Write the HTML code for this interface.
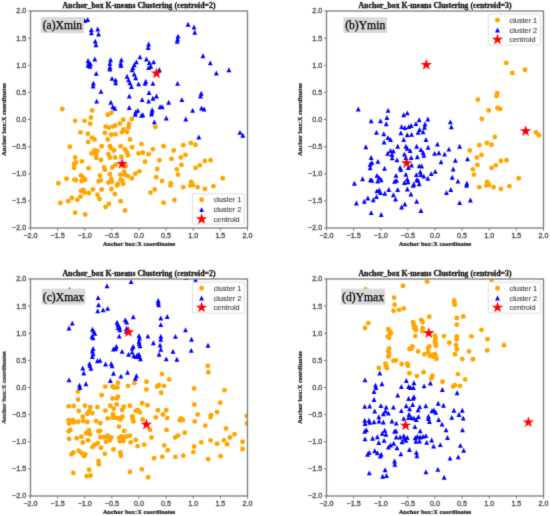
<!DOCTYPE html>
<html><head><meta charset="utf-8"><style>
html,body{margin:0;padding:0;background:#fff;width:550px;height:516px;overflow:hidden}
svg{display:block;will-change:transform}
</style></head><body>
<svg width="550" height="516" viewBox="0 0 550 516">
<defs><filter id="bl" x="0" y="0" width="550" height="516" filterUnits="userSpaceOnUse" color-interpolation-filters="sRGB"><feConvolveMatrix order="3" kernelMatrix="1 6 1 6 36 6 1 6 1" divisor="64" edgeMode="duplicate" preserveAlpha="true"/></filter></defs>
<g filter="url(#bl)">
<rect width="550" height="516" fill="#fff"/>
<clipPath id="c0"><rect x="30.5" y="11" width="217" height="217"/></clipPath><g clip-path="url(#c0)"><g fill="#ffa500"><circle cx="62.27" cy="108.97" r="2.45"/><circle cx="92.10" cy="110.40" r="2.45"/><circle cx="90.95" cy="117.57" r="2.45"/><circle cx="75.17" cy="120.87" r="2.45"/><circle cx="84.50" cy="120.87" r="2.45"/><circle cx="90.23" cy="123.74" r="2.45"/><circle cx="80.48" cy="132.34" r="2.45"/><circle cx="87.79" cy="133.78" r="2.45"/><circle cx="91.95" cy="137.65" r="2.45"/><circle cx="94.53" cy="139.51" r="2.45"/><circle cx="88.08" cy="141.95" r="2.45"/><circle cx="69.87" cy="146.68" r="2.45"/><circle cx="101.71" cy="146.25" r="2.45"/><circle cx="94.53" cy="150.55" r="2.45"/><circle cx="97.40" cy="150.98" r="2.45"/><circle cx="91.67" cy="153.42" r="2.45"/><circle cx="95.97" cy="154.43" r="2.45"/><circle cx="107.74" cy="114.70" r="2.45"/><circle cx="111.32" cy="112.84" r="2.45"/><circle cx="123.22" cy="119.72" r="2.45"/><circle cx="131.83" cy="119.00" r="2.45"/><circle cx="119.93" cy="123.59" r="2.45"/><circle cx="128.96" cy="124.02" r="2.45"/><circle cx="105.59" cy="126.60" r="2.45"/><circle cx="108.88" cy="127.61" r="2.45"/><circle cx="112.76" cy="126.60" r="2.45"/><circle cx="115.19" cy="125.46" r="2.45"/><circle cx="128.53" cy="127.18" r="2.45"/><circle cx="123.51" cy="129.47" r="2.45"/><circle cx="122.08" cy="132.34" r="2.45"/><circle cx="127.10" cy="131.91" r="2.45"/><circle cx="104.87" cy="132.91" r="2.45"/><circle cx="111.32" cy="134.78" r="2.45"/><circle cx="115.62" cy="134.35" r="2.45"/><circle cx="155.35" cy="126.89" r="2.45"/><circle cx="107.74" cy="139.51" r="2.45"/><circle cx="129.97" cy="139.51" r="2.45"/><circle cx="141.44" cy="144.10" r="2.45"/><circle cx="120.64" cy="146.25" r="2.45"/><circle cx="109.89" cy="146.25" r="2.45"/><circle cx="111.32" cy="148.40" r="2.45"/><circle cx="114.19" cy="150.55" r="2.45"/><circle cx="132.12" cy="147.26" r="2.45"/><circle cx="124.95" cy="149.55" r="2.45"/><circle cx="127.10" cy="152.42" r="2.45"/><circle cx="152.91" cy="149.12" r="2.45"/><circle cx="163.67" cy="146.25" r="2.45"/><circle cx="173.71" cy="150.55" r="2.45"/><circle cx="138.57" cy="153.42" r="2.45"/><circle cx="142.87" cy="152.71" r="2.45"/><circle cx="148.61" cy="154.14" r="2.45"/><circle cx="108.45" cy="154.14" r="2.45"/><circle cx="183.32" cy="145.25" r="2.45"/><circle cx="190.78" cy="142.95" r="2.45"/><circle cx="195.51" cy="144.82" r="2.45"/><circle cx="185.47" cy="154.86" r="2.45"/><circle cx="96.26" cy="157.88" r="2.45"/><circle cx="100.99" cy="159.89" r="2.45"/><circle cx="75.17" cy="157.45" r="2.45"/><circle cx="81.91" cy="161.33" r="2.45"/><circle cx="75.89" cy="162.47" r="2.45"/><circle cx="74.17" cy="164.19" r="2.45"/><circle cx="74.17" cy="167.92" r="2.45"/><circle cx="88.51" cy="168.21" r="2.45"/><circle cx="80.91" cy="175.38" r="2.45"/><circle cx="83.06" cy="177.53" r="2.45"/><circle cx="85.21" cy="179.68" r="2.45"/><circle cx="81.63" cy="181.12" r="2.45"/><circle cx="74.46" cy="179.68" r="2.45"/><circle cx="75.89" cy="180.26" r="2.45"/><circle cx="66.57" cy="178.68" r="2.45"/><circle cx="58.40" cy="183.27" r="2.45"/><circle cx="99.98" cy="175.38" r="2.45"/><circle cx="98.55" cy="181.40" r="2.45"/><circle cx="100.56" cy="180.40" r="2.45"/><circle cx="80.91" cy="190.87" r="2.45"/><circle cx="83.35" cy="190.01" r="2.45"/><circle cx="84.50" cy="192.59" r="2.45"/><circle cx="88.80" cy="193.31" r="2.45"/><circle cx="92.81" cy="189.43" r="2.45"/><circle cx="101.71" cy="189.43" r="2.45"/><circle cx="97.40" cy="194.74" r="2.45"/><circle cx="99.55" cy="199.04" r="2.45"/><circle cx="71.88" cy="198.04" r="2.45"/><circle cx="68.29" cy="201.19" r="2.45"/><circle cx="80.48" cy="196.60" r="2.45"/><circle cx="77.33" cy="199.76" r="2.45"/><circle cx="60.40" cy="203.06" r="2.45"/><circle cx="75.17" cy="212.67" r="2.45"/><circle cx="85.21" cy="214.53" r="2.45"/><circle cx="109.89" cy="157.45" r="2.45"/><circle cx="115.19" cy="157.45" r="2.45"/><circle cx="121.36" cy="156.74" r="2.45"/><circle cx="127.81" cy="155.30" r="2.45"/><circle cx="125.66" cy="166.06" r="2.45"/><circle cx="123.22" cy="165.91" r="2.45"/><circle cx="115.62" cy="165.05" r="2.45"/><circle cx="112.33" cy="167.49" r="2.45"/><circle cx="104.15" cy="167.49" r="2.45"/><circle cx="104.87" cy="169.64" r="2.45"/><circle cx="145.02" cy="161.76" r="2.45"/><circle cx="159.36" cy="160.32" r="2.45"/><circle cx="171.55" cy="158.89" r="2.45"/><circle cx="157.21" cy="168.93" r="2.45"/><circle cx="109.89" cy="174.23" r="2.45"/><circle cx="120.36" cy="174.66" r="2.45"/><circle cx="124.23" cy="171.79" r="2.45"/><circle cx="124.95" cy="174.66" r="2.45"/><circle cx="127.81" cy="176.10" r="2.45"/><circle cx="131.83" cy="178.25" r="2.45"/><circle cx="135.27" cy="173.66" r="2.45"/><circle cx="139.29" cy="171.36" r="2.45"/><circle cx="111.32" cy="178.97" r="2.45"/><circle cx="108.45" cy="182.55" r="2.45"/><circle cx="112.04" cy="181.83" r="2.45"/><circle cx="120.64" cy="179.68" r="2.45"/><circle cx="122.08" cy="180.40" r="2.45"/><circle cx="117.78" cy="183.98" r="2.45"/><circle cx="117.06" cy="185.42" r="2.45"/><circle cx="123.22" cy="183.70" r="2.45"/><circle cx="156.21" cy="177.24" r="2.45"/><circle cx="161.95" cy="181.12" r="2.45"/><circle cx="170.84" cy="183.27" r="2.45"/><circle cx="170.55" cy="185.42" r="2.45"/><circle cx="111.32" cy="189.00" r="2.45"/><circle cx="114.91" cy="194.02" r="2.45"/><circle cx="154.78" cy="189.43" r="2.45"/><circle cx="150.47" cy="192.59" r="2.45"/><circle cx="120.64" cy="201.19" r="2.45"/><circle cx="108.88" cy="204.06" r="2.45"/><circle cx="105.59" cy="206.93" r="2.45"/><circle cx="124.95" cy="210.52" r="2.45"/><circle cx="163.67" cy="202.63" r="2.45"/><circle cx="174.42" cy="200.05" r="2.45"/><circle cx="180.88" cy="157.45" r="2.45"/><circle cx="181.46" cy="164.91" r="2.45"/><circle cx="176.87" cy="169.36" r="2.45"/><circle cx="178.02" cy="174.66" r="2.45"/><circle cx="195.51" cy="167.92" r="2.45"/><circle cx="199.81" cy="165.34" r="2.45"/><circle cx="204.83" cy="161.04" r="2.45"/><circle cx="210.57" cy="160.32" r="2.45"/><circle cx="222.76" cy="178.25" r="2.45"/><circle cx="191.21" cy="181.83" r="2.45"/><circle cx="190.49" cy="185.42" r="2.45"/><circle cx="192.93" cy="184.70" r="2.45"/><circle cx="183.32" cy="187.14" r="2.45"/><circle cx="197.66" cy="187.14" r="2.45"/><circle cx="204.83" cy="189.00" r="2.45"/><circle cx="213.44" cy="186.14" r="2.45"/></g><path fill="#0000ff" d="M84.64 18.16L82.19 23.06L87.09 23.06ZM87.65 17.01L85.20 21.91L90.10 21.91ZM91.38 27.19L88.93 32.09L93.83 32.09ZM91.38 30.35L88.93 35.25L93.83 35.25ZM97.69 26.48L95.24 31.38L100.14 31.38ZM98.55 31.50L96.10 36.40L101.00 36.40ZM95.25 38.67L92.80 43.57L97.70 43.57ZM95.97 42.25L93.52 47.15L98.42 47.15ZM88.08 58.03L85.63 62.93L90.53 62.93ZM88.80 60.46L86.35 65.36L91.25 65.36ZM88.08 62.76L85.63 67.66L90.53 67.66ZM89.95 63.76L87.50 68.66L92.40 68.66ZM90.52 61.33L88.07 66.23L92.97 66.23ZM94.82 56.59L92.37 61.49L97.27 61.49ZM96.26 70.93L93.81 75.83L98.71 75.83ZM148.61 41.53L146.16 46.43L151.06 46.43ZM148.18 45.12L145.73 50.02L150.63 50.02ZM110.60 57.31L108.15 62.21L113.05 62.21ZM109.89 60.89L107.44 65.79L112.34 65.79ZM109.89 64.48L107.44 69.38L112.34 69.38ZM109.89 66.63L107.44 71.53L112.34 71.53ZM121.36 57.31L118.91 62.21L123.81 62.21ZM120.64 60.89L118.19 65.79L123.09 65.79ZM120.93 63.05L118.48 67.95L123.38 67.95ZM140.00 54.44L137.55 59.34L142.45 59.34ZM136.42 59.46L133.97 64.36L138.87 64.36ZM134.27 62.33L131.82 67.23L136.72 67.23ZM132.83 65.20L130.38 70.10L135.28 70.10ZM132.12 67.35L129.67 72.25L134.57 72.25ZM146.46 56.59L144.01 61.49L148.91 61.49ZM149.33 60.18L146.88 65.08L151.78 65.08ZM150.76 63.76L148.31 68.66L153.21 68.66ZM148.61 65.20L146.16 70.10L151.06 70.10ZM153.63 59.46L151.18 64.36L156.08 64.36ZM159.36 67.35L156.91 72.25L161.81 72.25ZM112.04 75.95L109.59 80.85L114.49 80.85ZM115.62 77.39L113.17 82.29L118.07 82.29ZM115.62 80.26L113.17 85.16L118.07 85.16ZM127.10 73.80L124.65 78.70L129.55 78.70ZM128.53 77.39L126.08 82.29L130.98 82.29ZM129.97 80.26L127.52 85.16L132.42 85.16ZM134.27 71.65L131.82 76.55L136.72 76.55ZM135.70 75.24L133.25 80.14L138.15 80.14ZM145.74 78.82L143.29 83.72L148.19 83.72ZM145.02 80.97L142.57 85.87L147.47 85.87ZM152.91 80.97L150.46 85.87L155.36 85.87ZM188.05 21.74L185.60 26.64L190.50 26.64ZM194.08 24.61L191.63 29.51L196.53 29.51ZM194.79 29.77L192.34 34.67L197.24 34.67ZM178.02 33.65L175.57 38.55L180.47 38.55ZM177.59 36.52L175.14 41.42L180.04 41.42ZM177.16 38.95L174.71 43.85L179.61 43.85ZM202.97 53.29L200.52 58.19L205.42 58.19ZM210.28 60.46L207.83 65.36L212.73 65.36ZM216.31 70.50L213.86 75.40L218.76 75.40ZM228.93 67.35L226.48 72.25L231.38 72.25ZM177.59 80.97L175.14 85.87L180.04 85.87ZM93.39 80.70L90.94 85.60L95.84 85.60ZM93.10 83.57L90.65 88.47L95.55 88.47ZM100.99 88.88L98.54 93.78L103.44 93.78ZM96.69 98.63L94.24 103.53L99.14 103.53ZM131.40 84.00L128.95 88.90L133.85 88.90ZM138.57 81.42L136.12 86.32L141.02 86.32ZM149.04 90.02L146.59 94.92L151.49 94.92ZM129.25 93.61L126.80 98.51L131.70 98.51ZM156.50 93.61L154.05 98.51L158.95 98.51ZM152.91 95.76L150.46 100.66L155.36 100.66ZM142.16 97.19L139.71 102.09L144.61 102.09ZM148.61 98.63L146.16 103.53L151.06 103.53ZM168.69 99.77L166.24 104.67L171.14 104.67ZM110.89 99.77L108.44 104.67L113.34 104.67ZM112.76 104.36L110.31 109.26L115.21 109.26ZM114.91 105.80L112.46 110.70L117.36 110.70ZM129.25 105.08L126.80 109.98L131.70 109.98ZM160.08 104.36L157.63 109.26L162.53 109.26ZM162.23 104.36L159.78 109.26L164.68 109.26ZM137.85 107.95L135.40 112.85L140.30 112.85ZM135.70 109.38L133.25 114.28L138.15 114.28ZM135.27 111.82L132.82 116.72L137.72 116.72ZM141.44 112.97L138.99 117.87L143.89 117.87ZM142.87 112.25L140.42 117.15L145.32 117.15ZM152.19 107.23L149.74 112.13L154.64 112.13ZM151.91 109.38L149.46 114.28L154.36 114.28ZM151.48 111.53L149.03 116.43L153.93 116.43ZM166.25 115.55L163.80 120.45L168.70 120.45ZM154.34 119.42L151.89 124.32L156.79 124.32ZM201.25 90.74L198.80 95.64L203.70 95.64ZM200.53 93.61L198.08 98.51L202.98 98.51ZM181.89 97.19L179.44 102.09L184.34 102.09ZM192.64 107.95L190.19 112.85L195.09 112.85ZM201.53 105.51L199.08 110.41L203.98 110.41ZM204.12 106.52L201.67 111.42L206.57 111.42ZM185.76 116.55L183.31 121.45L188.21 121.45ZM198.81 134.48L196.36 139.38L201.26 139.38ZM239.97 129.89L237.52 134.79L242.42 134.79ZM242.84 132.76L240.39 137.66L245.29 137.66Z"/><path fill="#ff0000" d="M156.50 67.38L157.84 71.53L162.20 71.53L158.68 74.09L160.02 78.24L156.50 75.68L152.97 78.24L154.32 74.09L150.79 71.53L155.15 71.53ZM122.08 157.91L123.42 162.05L127.78 162.05L124.26 164.62L125.60 168.76L122.08 166.20L118.55 168.76L119.90 164.62L116.37 162.05L120.73 162.05Z"/></g><rect x="30.5" y="11" width="217" height="217" fill="none" stroke="#7c7c7c" stroke-width="1.3"/><path d="M30.50 228.00v2.6M30.50 228.00h-2.6M57.62 228.00v2.6M30.50 200.88h-2.6M84.75 228.00v2.6M30.50 173.75h-2.6M111.88 228.00v2.6M30.50 146.62h-2.6M139.00 228.00v2.6M30.50 119.50h-2.6M166.12 228.00v2.6M30.50 92.38h-2.6M193.25 228.00v2.6M30.50 65.25h-2.6M220.38 228.00v2.6M30.50 38.12h-2.6M247.50 228.00v2.6M30.50 11.00h-2.6" stroke="#7c7c7c" stroke-width="1"/><g font-family="Liberation Sans" font-size="7.2" fill="#4a4a4a" stroke="#4a4a4a" stroke-width="0.3"><text x="30.50" y="237.80" text-anchor="middle">−2.0</text><text x="26.20" y="230.40" text-anchor="end">−2.0</text><text x="57.62" y="237.80" text-anchor="middle">−1.5</text><text x="26.20" y="203.28" text-anchor="end">−1.5</text><text x="84.75" y="237.80" text-anchor="middle">−1.0</text><text x="26.20" y="176.15" text-anchor="end">−1.0</text><text x="111.88" y="237.80" text-anchor="middle">−0.5</text><text x="26.20" y="149.03" text-anchor="end">−0.5</text><text x="139.00" y="237.80" text-anchor="middle">0.0</text><text x="26.20" y="121.90" text-anchor="end">0.0</text><text x="166.12" y="237.80" text-anchor="middle">0.5</text><text x="26.20" y="94.78" text-anchor="end">0.5</text><text x="193.25" y="237.80" text-anchor="middle">1.0</text><text x="26.20" y="67.65" text-anchor="end">1.0</text><text x="220.38" y="237.80" text-anchor="middle">1.5</text><text x="26.20" y="40.52" text-anchor="end">1.5</text><text x="247.50" y="237.80" text-anchor="middle">2.0</text><text x="26.20" y="13.40" text-anchor="end">2.0</text></g><text x="139.00" y="8.20" text-anchor="middle" font-family="Liberation Serif" font-weight="bold" font-size="7.8" fill="#111" stroke="#111" stroke-width="0.28">Anchor_box K-means Clustering (centroid=2)</text><text x="139.00" y="246.20" text-anchor="middle" font-family="Liberation Serif" font-weight="bold" font-size="6.46" fill="#111" stroke="#111" stroke-width="0.18">Anchor box:X coordinates</text><text transform="translate(5.90 119.50) rotate(-90)" text-anchor="middle" font-family="Liberation Serif" font-weight="bold" font-size="6.46" fill="#111" stroke="#111" stroke-width="0.18">Anchor box:X coordinates</text><rect x="40.8" y="17.1" width="43.20" height="16.10" fill="#d9d9d9"/><text x="62.40" y="29.20" text-anchor="middle" font-family="Liberation Serif" font-size="11.65" fill="#000" stroke="#000" stroke-width="0.25">(a)Xmin</text><rect x="192.4" y="193.8" width="52.10" height="30.40" rx="1.5" fill="#fff" fill-opacity="0.8" stroke="#d6d6d6" stroke-width="0.8"/><circle cx="201.60" cy="199.80" r="2.45" fill="#ffa500"/><path d="M201.60 207.15L199.15 212.05L204.05 212.05Z" fill="#0000ff"/><path d="M201.60 213.10L202.95 217.25L207.31 217.25L203.78 219.81L205.13 223.95L201.60 221.39L198.07 223.95L199.42 219.81L195.89 217.25L200.25 217.25Z" fill="#ff0000"/><g font-family="Liberation Sans" font-size="7.3" fill="#4a4a4a" stroke="#4a4a4a" stroke-width="0.15"><text x="213.70" y="202.40">cluster 1</text><text x="213.70" y="212.20">cluster 2</text><text x="213.70" y="221.70">centroid</text></g><clipPath id="c1"><rect x="326.5" y="11" width="217" height="217"/></clipPath><g clip-path="url(#c1)"><g fill="#ffa500"><circle cx="506.28" cy="62.91" r="2.45"/><circle cx="512.31" cy="72.95" r="2.45"/><circle cx="524.93" cy="69.80" r="2.45"/><circle cx="469.71" cy="150.55" r="2.45"/><circle cx="497.25" cy="93.19" r="2.45"/><circle cx="496.53" cy="96.06" r="2.45"/><circle cx="477.89" cy="99.64" r="2.45"/><circle cx="488.64" cy="110.40" r="2.45"/><circle cx="497.53" cy="107.96" r="2.45"/><circle cx="500.12" cy="108.97" r="2.45"/><circle cx="481.76" cy="119.00" r="2.45"/><circle cx="494.81" cy="136.93" r="2.45"/><circle cx="535.97" cy="132.34" r="2.45"/><circle cx="538.84" cy="135.21" r="2.45"/><circle cx="479.32" cy="145.25" r="2.45"/><circle cx="486.78" cy="142.95" r="2.45"/><circle cx="491.51" cy="144.82" r="2.45"/><circle cx="481.47" cy="154.86" r="2.45"/><circle cx="476.88" cy="157.45" r="2.45"/><circle cx="477.46" cy="164.91" r="2.45"/><circle cx="472.87" cy="169.36" r="2.45"/><circle cx="474.02" cy="174.66" r="2.45"/><circle cx="491.51" cy="167.92" r="2.45"/><circle cx="495.81" cy="165.34" r="2.45"/><circle cx="500.83" cy="161.04" r="2.45"/><circle cx="506.57" cy="160.32" r="2.45"/><circle cx="518.76" cy="178.25" r="2.45"/><circle cx="487.21" cy="181.83" r="2.45"/><circle cx="486.49" cy="185.42" r="2.45"/><circle cx="488.93" cy="184.70" r="2.45"/><circle cx="479.32" cy="187.14" r="2.45"/><circle cx="493.66" cy="187.14" r="2.45"/><circle cx="500.83" cy="189.00" r="2.45"/><circle cx="509.44" cy="186.14" r="2.45"/></g><path fill="#0000ff" d="M358.27 106.52L355.82 111.42L360.72 111.42ZM388.10 107.95L385.65 112.85L390.55 112.85ZM386.95 115.12L384.50 120.02L389.40 120.02ZM371.17 118.42L368.72 123.32L373.62 123.32ZM380.50 118.42L378.05 123.32L382.95 123.32ZM386.23 121.29L383.78 126.19L388.68 126.19ZM376.48 129.89L374.03 134.79L378.93 134.79ZM383.79 131.33L381.34 136.23L386.24 136.23ZM387.95 135.20L385.50 140.10L390.40 140.10ZM390.53 137.06L388.08 141.96L392.98 141.96ZM384.08 139.50L381.63 144.40L386.53 144.40ZM365.87 144.23L363.42 149.13L368.32 149.13ZM397.71 143.80L395.26 148.70L400.16 148.70ZM390.53 148.10L388.08 153.00L392.98 153.00ZM393.40 148.53L390.95 153.43L395.85 153.43ZM387.67 150.97L385.22 155.87L390.12 155.87ZM391.97 151.98L389.52 156.88L394.42 156.88ZM450.34 119.42L447.89 124.32L452.79 124.32ZM403.74 112.25L401.29 117.15L406.19 117.15ZM407.32 110.39L404.87 115.29L409.77 115.29ZM419.22 117.27L416.77 122.17L421.67 122.17ZM427.83 116.55L425.38 121.45L430.28 121.45ZM415.93 121.14L413.48 126.04L418.38 126.04ZM424.96 121.57L422.51 126.47L427.41 126.47ZM401.59 124.15L399.14 129.05L404.04 129.05ZM404.88 125.16L402.43 130.06L407.33 130.06ZM408.76 124.15L406.31 129.05L411.21 129.05ZM411.19 123.01L408.74 127.91L413.64 127.91ZM424.53 124.73L422.08 129.63L426.98 129.63ZM419.51 127.02L417.06 131.92L421.96 131.92ZM418.08 129.89L415.63 134.79L420.53 134.79ZM423.10 129.46L420.65 134.36L425.55 134.36ZM400.87 130.46L398.42 135.36L403.32 135.36ZM407.32 132.33L404.87 137.23L409.77 137.23ZM411.62 131.90L409.17 136.80L414.07 136.80ZM451.35 124.44L448.90 129.34L453.80 129.34ZM403.74 137.06L401.29 141.96L406.19 141.96ZM425.97 137.06L423.52 141.96L428.42 141.96ZM437.44 141.65L434.99 146.55L439.89 146.55ZM416.64 143.80L414.19 148.70L419.09 148.70ZM405.89 143.80L403.44 148.70L408.34 148.70ZM407.32 145.95L404.87 150.85L409.77 150.85ZM410.19 148.10L407.74 153.00L412.64 153.00ZM428.12 144.81L425.67 149.71L430.57 149.71ZM420.95 147.10L418.50 152.00L423.40 152.00ZM423.10 149.97L420.65 154.87L425.55 154.87ZM448.91 146.67L446.46 151.57L451.36 151.57ZM459.67 143.80L457.22 148.70L462.12 148.70ZM434.57 150.97L432.12 155.87L437.02 155.87ZM438.87 150.26L436.42 155.16L441.32 155.16ZM444.61 151.69L442.16 156.59L447.06 156.59ZM404.45 151.69L402.00 156.59L406.90 156.59ZM392.26 155.43L389.81 160.33L394.71 160.33ZM396.99 157.44L394.54 162.34L399.44 162.34ZM371.17 155.00L368.72 159.90L373.62 159.90ZM377.91 158.88L375.46 163.78L380.36 163.78ZM371.89 160.02L369.44 164.92L374.34 164.92ZM370.17 161.74L367.72 166.64L372.62 166.64ZM370.17 165.47L367.72 170.37L372.62 170.37ZM384.51 165.76L382.06 170.66L386.96 170.66ZM376.91 172.93L374.46 177.83L379.36 177.83ZM379.06 175.08L376.61 179.98L381.51 179.98ZM381.21 177.23L378.76 182.13L383.66 182.13ZM377.63 178.67L375.18 183.57L380.08 183.57ZM370.46 177.23L368.01 182.13L372.91 182.13ZM371.89 177.81L369.44 182.71L374.34 182.71ZM362.57 176.23L360.12 181.13L365.02 181.13ZM354.40 180.82L351.95 185.72L356.85 185.72ZM395.98 172.93L393.53 177.83L398.43 177.83ZM394.55 178.95L392.10 183.85L397.00 183.85ZM396.56 177.95L394.11 182.85L399.01 182.85ZM376.91 188.42L374.46 193.32L379.36 193.32ZM379.35 187.56L376.90 192.46L381.80 192.46ZM380.50 190.14L378.05 195.04L382.95 195.04ZM384.80 190.86L382.35 195.76L387.25 195.76ZM388.81 186.98L386.36 191.88L391.26 191.88ZM397.71 186.98L395.26 191.88L400.16 191.88ZM393.40 192.29L390.95 197.19L395.85 197.19ZM395.55 196.59L393.10 201.49L398.00 201.49ZM367.88 195.59L365.43 200.49L370.33 200.49ZM364.29 198.74L361.84 203.64L366.74 203.64ZM376.48 194.15L374.03 199.05L378.93 199.05ZM373.33 197.31L370.88 202.21L375.78 202.21ZM356.40 200.61L353.95 205.51L358.85 205.51ZM371.17 210.22L368.72 215.12L373.62 215.12ZM381.21 212.08L378.76 216.98L383.66 216.98ZM405.89 155.00L403.44 159.90L408.34 159.90ZM411.19 155.00L408.74 159.90L413.64 159.90ZM417.36 154.29L414.91 159.19L419.81 159.19ZM423.81 152.85L421.36 157.75L426.26 157.75ZM421.66 163.61L419.21 168.51L424.11 168.51ZM419.22 163.46L416.77 168.36L421.67 168.36ZM411.62 162.60L409.17 167.50L414.07 167.50ZM408.33 165.04L405.88 169.94L410.78 169.94ZM400.15 165.04L397.70 169.94L402.60 169.94ZM400.87 167.19L398.42 172.09L403.32 172.09ZM441.02 159.31L438.57 164.21L443.47 164.21ZM455.36 157.87L452.91 162.77L457.81 162.77ZM467.55 156.44L465.10 161.34L470.00 161.34ZM453.21 166.48L450.76 171.38L455.66 171.38ZM405.89 171.78L403.44 176.68L408.34 176.68ZM416.36 172.21L413.91 177.11L418.81 177.11ZM420.23 169.34L417.78 174.24L422.68 174.24ZM420.95 172.21L418.50 177.11L423.40 177.11ZM423.81 173.65L421.36 178.55L426.26 178.55ZM427.83 175.80L425.38 180.70L430.28 180.70ZM431.27 171.21L428.82 176.11L433.72 176.11ZM435.29 168.91L432.84 173.81L437.74 173.81ZM407.32 176.52L404.87 181.42L409.77 181.42ZM404.45 180.10L402.00 185.00L406.90 185.00ZM408.04 179.38L405.59 184.28L410.49 184.28ZM416.64 177.23L414.19 182.13L419.09 182.13ZM418.08 177.95L415.63 182.85L420.53 182.85ZM413.78 181.53L411.33 186.43L416.23 186.43ZM413.06 182.97L410.61 187.87L415.51 187.87ZM419.22 181.25L416.77 186.15L421.67 186.15ZM452.21 174.79L449.76 179.69L454.66 179.69ZM457.95 178.67L455.50 183.57L460.40 183.57ZM466.84 180.82L464.39 185.72L469.29 185.72ZM466.55 182.97L464.10 187.87L469.00 187.87ZM407.32 186.55L404.87 191.45L409.77 191.45ZM410.91 191.57L408.46 196.47L413.36 196.47ZM450.78 186.98L448.33 191.88L453.23 191.88ZM446.47 190.14L444.02 195.04L448.92 195.04ZM416.64 198.74L414.19 203.64L419.09 203.64ZM404.88 201.61L402.43 206.51L407.33 206.51ZM401.59 204.48L399.14 209.38L404.04 209.38ZM420.95 208.07L418.50 212.97L423.40 212.97ZM459.67 200.18L457.22 205.08L462.12 205.08ZM470.42 197.60L467.97 202.50L472.87 202.50Z"/><path fill="#ff0000" d="M426.30 58.80L427.65 62.95L432.01 62.95L428.48 65.51L429.83 69.65L426.30 67.09L422.77 69.65L424.12 65.51L420.59 62.95L424.95 62.95ZM406.60 157.20L407.95 161.35L412.31 161.35L408.78 163.91L410.13 168.05L406.60 165.49L403.07 168.05L404.42 163.91L400.89 161.35L405.25 161.35ZM525.60 125.20L526.95 129.35L531.31 129.35L527.78 131.91L529.13 136.05L525.60 133.49L522.07 136.05L523.42 131.91L519.89 129.35L524.25 129.35Z"/></g><rect x="326.5" y="11" width="217" height="217" fill="none" stroke="#7c7c7c" stroke-width="1.3"/><path d="M326.50 228.00v2.6M326.50 228.00h-2.6M353.62 228.00v2.6M326.50 200.88h-2.6M380.75 228.00v2.6M326.50 173.75h-2.6M407.88 228.00v2.6M326.50 146.62h-2.6M435.00 228.00v2.6M326.50 119.50h-2.6M462.12 228.00v2.6M326.50 92.38h-2.6M489.25 228.00v2.6M326.50 65.25h-2.6M516.38 228.00v2.6M326.50 38.12h-2.6M543.50 228.00v2.6M326.50 11.00h-2.6" stroke="#7c7c7c" stroke-width="1"/><g font-family="Liberation Sans" font-size="7.2" fill="#4a4a4a" stroke="#4a4a4a" stroke-width="0.3"><text x="326.50" y="237.80" text-anchor="middle">−2.0</text><text x="322.20" y="230.40" text-anchor="end">−2.0</text><text x="353.62" y="237.80" text-anchor="middle">−1.5</text><text x="322.20" y="203.28" text-anchor="end">−1.5</text><text x="380.75" y="237.80" text-anchor="middle">−1.0</text><text x="322.20" y="176.15" text-anchor="end">−1.0</text><text x="407.88" y="237.80" text-anchor="middle">−0.5</text><text x="322.20" y="149.03" text-anchor="end">−0.5</text><text x="435.00" y="237.80" text-anchor="middle">0.0</text><text x="322.20" y="121.90" text-anchor="end">0.0</text><text x="462.12" y="237.80" text-anchor="middle">0.5</text><text x="322.20" y="94.78" text-anchor="end">0.5</text><text x="489.25" y="237.80" text-anchor="middle">1.0</text><text x="322.20" y="67.65" text-anchor="end">1.0</text><text x="516.38" y="237.80" text-anchor="middle">1.5</text><text x="322.20" y="40.52" text-anchor="end">1.5</text><text x="543.50" y="237.80" text-anchor="middle">2.0</text><text x="322.20" y="13.40" text-anchor="end">2.0</text></g><text x="435.00" y="8.20" text-anchor="middle" font-family="Liberation Serif" font-weight="bold" font-size="7.8" fill="#111" stroke="#111" stroke-width="0.28">Anchor_box K-means Clustering (centroid=3)</text><text x="435.00" y="246.20" text-anchor="middle" font-family="Liberation Serif" font-weight="bold" font-size="6.46" fill="#111" stroke="#111" stroke-width="0.18">Anchor box:X coordinates</text><text transform="translate(301.90 119.50) rotate(-90)" text-anchor="middle" font-family="Liberation Serif" font-weight="bold" font-size="6.46" fill="#111" stroke="#111" stroke-width="0.18">Anchor box:X coordinates</text><rect x="343.4" y="17.2" width="43.60" height="15.80" fill="#d9d9d9"/><text x="365.20" y="29.30" text-anchor="middle" font-family="Liberation Serif" font-size="11.65" fill="#000" stroke="#000" stroke-width="0.25">(b)Ymin</text><rect x="488.3" y="14.2" width="52.30" height="30.90" rx="1.5" fill="#fff" fill-opacity="0.8" stroke="#d6d6d6" stroke-width="0.8"/><circle cx="497.50" cy="20.20" r="2.45" fill="#ffa500"/><path d="M497.50 27.55L495.05 32.45L499.95 32.45Z" fill="#0000ff"/><path d="M497.50 33.50L498.85 37.65L503.21 37.65L499.68 40.21L501.03 44.35L497.50 41.79L493.97 44.35L495.32 40.21L491.79 37.65L496.15 37.65Z" fill="#ff0000"/><g font-family="Liberation Sans" font-size="7.3" fill="#4a4a4a" stroke="#4a4a4a" stroke-width="0.15"><text x="509.60" y="22.80">cluster 1</text><text x="509.60" y="32.60">cluster 2</text><text x="509.60" y="42.10">centroid</text></g><clipPath id="c2"><rect x="30.5" y="279" width="217" height="217"/></clipPath><g clip-path="url(#c2)"><g fill="#ffa500"><circle cx="78.04" cy="391.59" r="2.45"/><circle cx="78.04" cy="399.48" r="2.45"/><circle cx="101.71" cy="395.17" r="2.45"/><circle cx="68.72" cy="406.36" r="2.45"/><circle cx="73.74" cy="405.93" r="2.45"/><circle cx="84.93" cy="405.64" r="2.45"/><circle cx="90.23" cy="407.08" r="2.45"/><circle cx="97.40" cy="407.08" r="2.45"/><circle cx="78.76" cy="410.95" r="2.45"/><circle cx="89.52" cy="410.95" r="2.45"/><circle cx="87.36" cy="413.82" r="2.45"/><circle cx="92.38" cy="413.10" r="2.45"/><circle cx="82.78" cy="416.69" r="2.45"/><circle cx="68.72" cy="420.27" r="2.45"/><circle cx="73.02" cy="420.27" r="2.45"/><circle cx="73.74" cy="422.42" r="2.45"/><circle cx="78.04" cy="421.71" r="2.45"/><circle cx="83.06" cy="420.99" r="2.45"/><circle cx="87.36" cy="421.99" r="2.45"/><circle cx="95.97" cy="420.99" r="2.45"/><circle cx="100.27" cy="423.14" r="2.45"/><circle cx="161.95" cy="374.09" r="2.45"/><circle cx="169.12" cy="379.40" r="2.45"/><circle cx="158.65" cy="385.14" r="2.45"/><circle cx="157.21" cy="386.57" r="2.45"/><circle cx="163.95" cy="385.85" r="2.45"/><circle cx="161.09" cy="392.74" r="2.45"/><circle cx="157.93" cy="410.23" r="2.45"/><circle cx="166.25" cy="410.23" r="2.45"/><circle cx="162.95" cy="414.53" r="2.45"/><circle cx="155.78" cy="417.40" r="2.45"/><circle cx="167.25" cy="418.12" r="2.45"/><circle cx="117.93" cy="382.75" r="2.45"/><circle cx="105.33" cy="386.63" r="2.45"/><circle cx="112.60" cy="386.43" r="2.45"/><circle cx="114.53" cy="387.60" r="2.45"/><circle cx="117.44" cy="387.60" r="2.45"/><circle cx="128.10" cy="385.85" r="2.45"/><circle cx="134.40" cy="382.95" r="2.45"/><circle cx="146.51" cy="381.78" r="2.45"/><circle cx="146.32" cy="389.53" r="2.45"/><circle cx="112.60" cy="398.55" r="2.45"/><circle cx="116.96" cy="398.26" r="2.45"/><circle cx="117.93" cy="396.80" r="2.45"/><circle cx="110.17" cy="405.81" r="2.45"/><circle cx="113.57" cy="408.72" r="2.45"/><circle cx="116.67" cy="404.55" r="2.45"/><circle cx="123.74" cy="406.78" r="2.45"/><circle cx="122.09" cy="409.88" r="2.45"/><circle cx="129.84" cy="405.81" r="2.45"/><circle cx="105.33" cy="410.66" r="2.45"/><circle cx="142.15" cy="403.29" r="2.45"/><circle cx="147.48" cy="405.23" r="2.45"/><circle cx="135.85" cy="410.85" r="2.45"/><circle cx="137.79" cy="409.88" r="2.45"/><circle cx="139.73" cy="412.31" r="2.45"/><circle cx="107.75" cy="418.41" r="2.45"/><circle cx="113.08" cy="414.24" r="2.45"/><circle cx="112.60" cy="417.64" r="2.45"/><circle cx="115.50" cy="417.64" r="2.45"/><circle cx="117.93" cy="418.12" r="2.45"/><circle cx="120.35" cy="419.57" r="2.45"/><circle cx="122.48" cy="416.67" r="2.45"/><circle cx="132.46" cy="416.18" r="2.45"/><circle cx="132.46" cy="418.60" r="2.45"/><circle cx="133.43" cy="421.51" r="2.45"/><circle cx="142.64" cy="419.57" r="2.45"/><circle cx="207.70" cy="366.06" r="2.45"/><circle cx="208.42" cy="372.23" r="2.45"/><circle cx="194.08" cy="388.43" r="2.45"/><circle cx="224.48" cy="390.16" r="2.45"/><circle cx="194.36" cy="404.50" r="2.45"/><circle cx="220.18" cy="402.78" r="2.45"/><circle cx="197.66" cy="414.53" r="2.45"/><circle cx="217.02" cy="411.95" r="2.45"/><circle cx="211.00" cy="415.25" r="2.45"/><circle cx="210.57" cy="416.97" r="2.45"/><circle cx="180.88" cy="418.55" r="2.45"/><circle cx="182.89" cy="419.98" r="2.45"/><circle cx="179.74" cy="420.27" r="2.45"/><circle cx="194.79" cy="421.42" r="2.45"/><circle cx="205.26" cy="425.58" r="2.45"/><circle cx="246.71" cy="415.97" r="2.45"/><circle cx="69.01" cy="423.43" r="2.45"/><circle cx="68.72" cy="431.32" r="2.45"/><circle cx="70.44" cy="429.89" r="2.45"/><circle cx="88.80" cy="430.32" r="2.45"/><circle cx="86.22" cy="433.19" r="2.45"/><circle cx="89.95" cy="434.19" r="2.45"/><circle cx="98.55" cy="431.32" r="2.45"/><circle cx="99.98" cy="430.89" r="2.45"/><circle cx="69.01" cy="438.92" r="2.45"/><circle cx="76.61" cy="438.21" r="2.45"/><circle cx="81.34" cy="436.77" r="2.45"/><circle cx="82.78" cy="442.51" r="2.45"/><circle cx="88.08" cy="440.36" r="2.45"/><circle cx="100.27" cy="437.06" r="2.45"/><circle cx="92.38" cy="447.10" r="2.45"/><circle cx="94.53" cy="444.95" r="2.45"/><circle cx="97.69" cy="443.22" r="2.45"/><circle cx="100.99" cy="447.81" r="2.45"/><circle cx="71.59" cy="454.27" r="2.45"/><circle cx="73.31" cy="452.40" r="2.45"/><circle cx="78.76" cy="450.68" r="2.45"/><circle cx="81.34" cy="452.83" r="2.45"/><circle cx="84.21" cy="456.13" r="2.45"/><circle cx="85.21" cy="454.27" r="2.45"/><circle cx="98.55" cy="461.01" r="2.45"/><circle cx="98.84" cy="464.31" r="2.45"/><circle cx="89.09" cy="469.76" r="2.45"/><circle cx="73.31" cy="472.91" r="2.45"/><circle cx="86.65" cy="476.21" r="2.45"/><circle cx="90.52" cy="475.49" r="2.45"/><circle cx="146.03" cy="424.15" r="2.45"/><circle cx="118.92" cy="426.59" r="2.45"/><circle cx="124.23" cy="430.89" r="2.45"/><circle cx="150.04" cy="429.89" r="2.45"/><circle cx="166.53" cy="429.89" r="2.45"/><circle cx="104.15" cy="437.06" r="2.45"/><circle cx="107.74" cy="435.62" r="2.45"/><circle cx="108.45" cy="438.49" r="2.45"/><circle cx="111.32" cy="437.49" r="2.45"/><circle cx="106.02" cy="441.79" r="2.45"/><circle cx="109.89" cy="440.36" r="2.45"/><circle cx="119.21" cy="437.78" r="2.45"/><circle cx="121.36" cy="436.34" r="2.45"/><circle cx="124.23" cy="437.06" r="2.45"/><circle cx="127.10" cy="436.34" r="2.45"/><circle cx="129.97" cy="435.62" r="2.45"/><circle cx="119.93" cy="441.36" r="2.45"/><circle cx="123.51" cy="440.93" r="2.45"/><circle cx="130.68" cy="442.36" r="2.45"/><circle cx="135.70" cy="439.93" r="2.45"/><circle cx="137.57" cy="446.09" r="2.45"/><circle cx="144.31" cy="444.66" r="2.45"/><circle cx="151.48" cy="437.49" r="2.45"/><circle cx="175.14" cy="437.49" r="2.45"/><circle cx="113.47" cy="449.53" r="2.45"/><circle cx="104.87" cy="453.84" r="2.45"/><circle cx="120.36" cy="452.40" r="2.45"/><circle cx="120.93" cy="455.70" r="2.45"/><circle cx="164.38" cy="445.38" r="2.45"/><circle cx="167.68" cy="450.25" r="2.45"/><circle cx="162.23" cy="456.85" r="2.45"/><circle cx="154.06" cy="458.14" r="2.45"/><circle cx="175.43" cy="456.85" r="2.45"/><circle cx="129.97" cy="471.91" r="2.45"/><circle cx="141.87" cy="469.33" r="2.45"/><circle cx="148.18" cy="477.21" r="2.45"/><circle cx="225.91" cy="428.45" r="2.45"/><circle cx="184.76" cy="432.76" r="2.45"/><circle cx="178.02" cy="435.62" r="2.45"/><circle cx="234.52" cy="434.19" r="2.45"/><circle cx="229.93" cy="437.49" r="2.45"/><circle cx="246.85" cy="423.43" r="2.45"/><circle cx="201.25" cy="442.36" r="2.45"/><circle cx="210.57" cy="440.36" r="2.45"/><circle cx="217.02" cy="443.80" r="2.45"/><circle cx="223.91" cy="440.36" r="2.45"/><circle cx="227.06" cy="444.23" r="2.45"/><circle cx="242.55" cy="441.79" r="2.45"/><circle cx="242.55" cy="448.96" r="2.45"/><circle cx="194.08" cy="446.67" r="2.45"/><circle cx="193.36" cy="452.12" r="2.45"/><circle cx="183.32" cy="455.70" r="2.45"/><circle cx="208.13" cy="459.29" r="2.45"/><circle cx="220.61" cy="456.13" r="2.45"/></g><path fill="#0000ff" d="M69.44 286.88L66.99 291.78L71.89 291.78ZM98.12 295.19L95.67 300.09L100.57 300.09ZM98.55 302.36L96.10 307.26L101.00 307.26ZM97.69 308.39L95.24 313.29L100.14 313.29ZM103.14 307.38L100.69 312.28L105.59 312.28ZM72.31 320.72L69.86 325.62L74.76 325.62ZM69.01 325.60L66.56 330.50L71.46 330.50ZM92.38 326.74L89.93 331.64L94.83 331.64ZM93.82 328.89L91.37 333.79L96.27 333.79ZM94.82 330.76L92.37 335.66L97.27 335.66ZM91.95 333.91L89.50 338.81L94.40 338.81ZM93.10 335.35L90.65 340.25L95.55 340.25ZM93.10 346.10L90.65 351.00L95.55 351.00ZM92.38 348.54L89.93 353.44L94.83 353.44ZM131.11 279.13L128.66 284.03L133.56 284.03ZM107.02 283.43L104.57 288.33L109.47 288.33ZM158.22 298.06L155.77 302.96L160.67 302.96ZM158.22 300.21L155.77 305.11L160.67 305.11ZM158.65 302.36L156.20 307.26L161.10 307.26ZM107.74 305.95L105.29 310.85L110.19 310.85ZM133.26 314.27L130.81 319.17L135.71 319.17ZM125.23 317.42L122.78 322.32L127.68 322.32ZM126.67 319.57L124.22 324.47L129.12 324.47ZM160.80 315.56L158.35 320.46L163.25 320.46ZM167.25 314.12L164.80 319.02L169.70 319.02ZM160.80 322.15L158.35 327.05L163.25 327.05ZM117.06 319.86L114.61 324.76L119.51 324.76ZM117.78 322.44L115.33 327.34L120.23 327.34ZM119.50 324.59L117.05 329.49L121.95 329.49ZM119.93 327.46L117.48 332.36L122.38 332.36ZM118.06 325.31L115.61 330.21L120.51 330.21ZM126.38 328.89L123.93 333.79L128.83 333.79ZM126.67 325.74L124.22 330.64L129.12 330.64ZM119.21 333.63L116.76 338.53L121.66 338.53ZM139.00 333.20L136.55 338.10L141.45 338.10ZM139.57 335.64L137.12 340.54L142.02 340.54ZM139.00 338.93L136.55 343.83L141.45 343.83ZM139.29 341.08L136.84 345.98L141.74 345.98ZM140.00 343.24L137.55 348.14L142.45 348.14ZM147.89 333.63L145.44 338.53L150.34 338.53ZM160.80 333.91L158.35 338.81L163.25 338.81ZM160.80 336.78L158.35 341.68L163.25 341.68ZM153.34 340.37L150.89 345.27L155.79 345.27ZM160.08 342.52L157.63 347.42L162.53 347.42ZM160.80 346.82L158.35 351.72L163.25 351.72ZM116.34 343.95L113.89 348.85L118.79 348.85ZM113.47 346.53L111.02 351.43L115.92 351.43ZM115.62 346.10L113.17 351.00L118.07 351.00ZM133.26 343.95L130.81 348.85L135.71 348.85ZM132.12 345.67L129.67 350.57L134.57 350.57ZM122.08 348.97L119.63 353.87L124.53 353.87ZM132.12 349.69L129.67 354.59L134.57 354.59ZM172.99 348.97L170.54 353.87L175.44 353.87ZM186.19 275.12L183.74 280.02L188.64 280.02ZM195.51 277.41L193.06 282.31L197.96 282.31ZM185.47 327.46L183.02 332.36L187.92 332.36ZM175.43 333.91L172.98 338.81L177.88 338.81ZM191.50 336.78L189.05 341.68L193.95 341.68ZM207.99 342.81L205.54 347.71L210.44 347.71ZM191.21 347.97L188.76 352.87L193.66 352.87ZM93.10 351.42L90.65 356.32L95.55 356.32ZM92.38 354.00L89.93 358.90L94.83 358.90ZM97.40 358.31L94.95 363.21L99.85 363.21ZM99.98 357.88L97.53 362.78L102.43 362.78ZM89.52 361.17L87.07 366.07L91.97 366.07ZM89.95 363.33L87.50 368.23L92.40 368.23ZM90.95 365.91L88.50 370.81L93.40 370.81ZM82.78 365.48L80.33 370.38L85.23 370.38ZM83.78 370.50L81.33 375.40L86.23 375.40ZM69.01 377.38L66.56 382.28L71.46 382.28ZM79.48 382.69L77.03 387.59L81.93 387.59ZM79.91 385.12L77.46 390.02L82.36 390.02ZM85.93 381.25L83.48 386.15L88.38 386.15ZM128.53 351.85L126.08 356.75L130.98 356.75ZM133.84 353.29L131.39 358.19L136.29 358.19ZM137.14 352.57L134.69 357.47L139.59 357.47ZM139.00 351.85L136.55 356.75L141.45 356.75ZM139.57 354.00L137.12 358.90L142.02 358.90ZM140.43 356.44L137.98 361.34L142.88 361.34ZM136.42 354.00L133.97 358.90L138.87 358.90ZM159.08 351.85L156.63 356.75L161.53 356.75ZM166.25 356.44L163.80 361.34L168.70 361.34ZM105.59 361.60L103.14 366.50L108.04 366.50ZM111.32 361.17L108.87 366.07L113.77 366.07ZM112.04 363.33L109.59 368.23L114.49 368.23ZM113.47 370.78L111.02 375.68L115.92 375.68ZM127.53 369.78L125.08 374.68L129.98 374.68ZM120.93 373.65L118.48 378.55L123.38 378.55ZM136.42 373.36L133.97 378.26L138.87 378.26ZM135.27 375.95L132.82 380.85L137.72 380.85ZM110.32 378.10L107.87 383.00L112.77 383.00ZM176.87 356.87L174.42 361.77L179.32 361.77Z"/><path fill="#ff0000" d="M128.53 326.06L129.88 330.21L134.24 330.21L130.71 332.77L132.06 336.92L128.53 334.35L125.00 336.92L126.35 332.77L122.82 330.21L127.18 330.21ZM146.46 418.58L147.80 422.73L152.16 422.73L148.64 425.29L149.98 429.44L146.46 426.87L142.93 429.44L144.28 425.29L140.75 422.73L145.11 422.73Z"/></g><rect x="30.5" y="279" width="217" height="217" fill="none" stroke="#7c7c7c" stroke-width="1.3"/><path d="M30.50 496.00v2.6M30.50 496.00h-2.6M57.62 496.00v2.6M30.50 468.88h-2.6M84.75 496.00v2.6M30.50 441.75h-2.6M111.88 496.00v2.6M30.50 414.62h-2.6M139.00 496.00v2.6M30.50 387.50h-2.6M166.12 496.00v2.6M30.50 360.38h-2.6M193.25 496.00v2.6M30.50 333.25h-2.6M220.38 496.00v2.6M30.50 306.12h-2.6M247.50 496.00v2.6M30.50 279.00h-2.6" stroke="#7c7c7c" stroke-width="1"/><g font-family="Liberation Sans" font-size="7.2" fill="#4a4a4a" stroke="#4a4a4a" stroke-width="0.3"><text x="30.50" y="505.80" text-anchor="middle">−2.0</text><text x="26.20" y="498.40" text-anchor="end">−2.0</text><text x="57.62" y="505.80" text-anchor="middle">−1.5</text><text x="26.20" y="471.27" text-anchor="end">−1.5</text><text x="84.75" y="505.80" text-anchor="middle">−1.0</text><text x="26.20" y="444.15" text-anchor="end">−1.0</text><text x="111.88" y="505.80" text-anchor="middle">−0.5</text><text x="26.20" y="417.02" text-anchor="end">−0.5</text><text x="139.00" y="505.80" text-anchor="middle">0.0</text><text x="26.20" y="389.90" text-anchor="end">0.0</text><text x="166.12" y="505.80" text-anchor="middle">0.5</text><text x="26.20" y="362.77" text-anchor="end">0.5</text><text x="193.25" y="505.80" text-anchor="middle">1.0</text><text x="26.20" y="335.65" text-anchor="end">1.0</text><text x="220.38" y="505.80" text-anchor="middle">1.5</text><text x="26.20" y="308.52" text-anchor="end">1.5</text><text x="247.50" y="505.80" text-anchor="middle">2.0</text><text x="26.20" y="281.40" text-anchor="end">2.0</text></g><text x="139.00" y="276.20" text-anchor="middle" font-family="Liberation Serif" font-weight="bold" font-size="7.8" fill="#111" stroke="#111" stroke-width="0.28">Anchor_box K-means Clustering (centroid=2)</text><text x="139.00" y="514.20" text-anchor="middle" font-family="Liberation Serif" font-weight="bold" font-size="6.46" fill="#111" stroke="#111" stroke-width="0.18">Anchor box:X coordinates</text><text transform="translate(5.90 387.50) rotate(-90)" text-anchor="middle" font-family="Liberation Serif" font-weight="bold" font-size="6.46" fill="#111" stroke="#111" stroke-width="0.18">Anchor box:X coordinates</text><rect x="41.8" y="288.6" width="43.40" height="16.00" fill="#d9d9d9"/><text x="63.50" y="300.70" text-anchor="middle" font-family="Liberation Serif" font-size="11.65" fill="#000" stroke="#000" stroke-width="0.25">(c)Xmax</text><rect x="192.4" y="282.2" width="52.20" height="30.90" rx="1.5" fill="#fff" fill-opacity="0.8" stroke="#d6d6d6" stroke-width="0.8"/><circle cx="201.60" cy="288.20" r="2.45" fill="#ffa500"/><path d="M201.60 295.55L199.15 300.45L204.05 300.45Z" fill="#0000ff"/><path d="M201.60 301.50L202.95 305.65L207.31 305.65L203.78 308.21L205.13 312.35L201.60 309.79L198.07 312.35L199.42 308.21L195.89 305.65L200.25 305.65Z" fill="#ff0000"/><g font-family="Liberation Sans" font-size="7.3" fill="#4a4a4a" stroke="#4a4a4a" stroke-width="0.15"><text x="213.70" y="290.80">cluster 1</text><text x="213.70" y="300.60">cluster 2</text><text x="213.70" y="310.10">centroid</text></g><clipPath id="c3"><rect x="326.5" y="279" width="217" height="217"/></clipPath><g clip-path="url(#c3)"><g fill="#ffa500"><circle cx="365.44" cy="289.33" r="2.45"/><circle cx="394.12" cy="297.64" r="2.45"/><circle cx="394.55" cy="304.81" r="2.45"/><circle cx="393.69" cy="310.84" r="2.45"/><circle cx="399.14" cy="309.83" r="2.45"/><circle cx="368.31" cy="323.17" r="2.45"/><circle cx="365.01" cy="328.05" r="2.45"/><circle cx="388.38" cy="329.19" r="2.45"/><circle cx="389.82" cy="331.34" r="2.45"/><circle cx="390.82" cy="333.21" r="2.45"/><circle cx="387.95" cy="336.36" r="2.45"/><circle cx="389.10" cy="337.80" r="2.45"/><circle cx="389.10" cy="348.55" r="2.45"/><circle cx="388.38" cy="350.99" r="2.45"/><circle cx="427.11" cy="281.58" r="2.45"/><circle cx="403.02" cy="285.88" r="2.45"/><circle cx="454.22" cy="300.51" r="2.45"/><circle cx="454.22" cy="302.66" r="2.45"/><circle cx="454.65" cy="304.81" r="2.45"/><circle cx="403.74" cy="308.40" r="2.45"/><circle cx="429.26" cy="316.72" r="2.45"/><circle cx="421.23" cy="319.87" r="2.45"/><circle cx="422.67" cy="322.02" r="2.45"/><circle cx="456.80" cy="318.01" r="2.45"/><circle cx="463.25" cy="316.57" r="2.45"/><circle cx="456.80" cy="324.60" r="2.45"/><circle cx="413.06" cy="322.31" r="2.45"/><circle cx="413.78" cy="324.89" r="2.45"/><circle cx="415.50" cy="327.04" r="2.45"/><circle cx="415.93" cy="329.91" r="2.45"/><circle cx="414.06" cy="327.76" r="2.45"/><circle cx="422.38" cy="331.34" r="2.45"/><circle cx="422.67" cy="328.19" r="2.45"/><circle cx="415.21" cy="336.08" r="2.45"/><circle cx="435.00" cy="335.65" r="2.45"/><circle cx="435.57" cy="338.09" r="2.45"/><circle cx="435.00" cy="341.38" r="2.45"/><circle cx="435.29" cy="343.53" r="2.45"/><circle cx="436.00" cy="345.69" r="2.45"/><circle cx="443.89" cy="336.08" r="2.45"/><circle cx="456.80" cy="336.36" r="2.45"/><circle cx="456.80" cy="339.23" r="2.45"/><circle cx="449.34" cy="342.82" r="2.45"/><circle cx="456.08" cy="344.97" r="2.45"/><circle cx="456.80" cy="349.27" r="2.45"/><circle cx="412.34" cy="346.40" r="2.45"/><circle cx="409.47" cy="348.98" r="2.45"/><circle cx="411.62" cy="348.55" r="2.45"/><circle cx="429.26" cy="346.40" r="2.45"/><circle cx="428.12" cy="348.12" r="2.45"/><circle cx="418.08" cy="351.42" r="2.45"/><circle cx="428.12" cy="352.14" r="2.45"/><circle cx="468.99" cy="351.42" r="2.45"/><circle cx="482.19" cy="277.57" r="2.45"/><circle cx="491.51" cy="279.86" r="2.45"/><circle cx="481.47" cy="329.91" r="2.45"/><circle cx="471.43" cy="336.36" r="2.45"/><circle cx="487.50" cy="339.23" r="2.45"/><circle cx="503.99" cy="345.26" r="2.45"/><circle cx="487.21" cy="350.42" r="2.45"/><circle cx="389.10" cy="353.87" r="2.45"/><circle cx="388.38" cy="356.45" r="2.45"/><circle cx="393.40" cy="360.76" r="2.45"/><circle cx="395.98" cy="360.33" r="2.45"/><circle cx="385.52" cy="363.62" r="2.45"/><circle cx="385.95" cy="365.78" r="2.45"/><circle cx="386.95" cy="368.36" r="2.45"/><circle cx="378.78" cy="367.93" r="2.45"/><circle cx="424.53" cy="354.30" r="2.45"/><circle cx="429.84" cy="355.74" r="2.45"/><circle cx="433.14" cy="355.02" r="2.45"/><circle cx="435.00" cy="354.30" r="2.45"/><circle cx="435.57" cy="356.45" r="2.45"/><circle cx="436.43" cy="358.89" r="2.45"/><circle cx="432.42" cy="356.45" r="2.45"/><circle cx="455.08" cy="354.30" r="2.45"/><circle cx="462.25" cy="358.89" r="2.45"/><circle cx="401.59" cy="364.05" r="2.45"/><circle cx="407.32" cy="363.62" r="2.45"/><circle cx="408.04" cy="365.78" r="2.45"/><circle cx="409.47" cy="373.23" r="2.45"/><circle cx="423.53" cy="372.23" r="2.45"/><circle cx="416.93" cy="376.10" r="2.45"/><circle cx="432.42" cy="375.81" r="2.45"/><circle cx="431.27" cy="378.40" r="2.45"/><circle cx="457.95" cy="374.09" r="2.45"/><circle cx="465.12" cy="379.40" r="2.45"/><circle cx="454.65" cy="385.14" r="2.45"/><circle cx="453.21" cy="386.57" r="2.45"/><circle cx="459.95" cy="385.85" r="2.45"/><circle cx="442.51" cy="381.78" r="2.45"/><circle cx="472.87" cy="359.32" r="2.45"/></g><path fill="#0000ff" d="M379.78 370.50L377.33 375.40L382.23 375.40ZM365.01 377.38L362.56 382.28L367.46 382.28ZM375.48 382.69L373.03 387.59L377.93 387.59ZM375.91 385.12L373.46 390.02L378.36 390.02ZM381.93 381.25L379.48 386.15L384.38 386.15ZM374.04 389.14L371.59 394.04L376.49 394.04ZM374.04 397.03L371.59 401.93L376.49 401.93ZM397.71 392.72L395.26 397.62L400.16 397.62ZM364.72 403.91L362.27 408.81L367.17 408.81ZM369.74 403.48L367.29 408.38L372.19 408.38ZM380.93 403.19L378.48 408.09L383.38 408.09ZM386.23 404.63L383.78 409.53L388.68 409.53ZM393.40 404.63L390.95 409.53L395.85 409.53ZM374.76 408.50L372.31 413.40L377.21 413.40ZM385.52 408.50L383.07 413.40L387.97 413.40ZM383.36 411.37L380.91 416.27L385.81 416.27ZM388.38 410.65L385.93 415.55L390.83 415.55ZM378.78 414.24L376.33 419.14L381.23 419.14ZM364.72 417.82L362.27 422.72L367.17 422.72ZM369.02 417.82L366.57 422.72L371.47 422.72ZM369.74 419.97L367.29 424.87L372.19 424.87ZM374.04 419.26L371.59 424.16L376.49 424.16ZM379.06 418.54L376.61 423.44L381.51 423.44ZM383.36 419.54L380.91 424.44L385.81 424.44ZM391.97 418.54L389.52 423.44L394.42 423.44ZM396.27 420.69L393.82 425.59L398.72 425.59ZM406.32 378.10L403.87 383.00L408.77 383.00ZM457.09 390.29L454.64 395.19L459.54 395.19ZM453.93 407.78L451.48 412.68L456.38 412.68ZM462.25 407.78L459.80 412.68L464.70 412.68ZM458.95 412.08L456.50 416.98L461.40 416.98ZM451.78 414.95L449.33 419.85L454.23 419.85ZM463.25 415.67L460.80 420.57L465.70 420.57ZM413.93 380.30L411.48 385.20L416.38 385.20ZM401.33 384.18L398.88 389.08L403.78 389.08ZM408.60 383.98L406.15 388.88L411.05 388.88ZM410.53 385.15L408.08 390.05L412.98 390.05ZM413.44 385.15L410.99 390.05L415.89 390.05ZM424.10 383.40L421.65 388.30L426.55 388.30ZM430.40 380.50L427.95 385.40L432.85 385.40ZM442.32 387.08L439.87 391.98L444.77 391.98ZM408.60 396.10L406.15 401.00L411.05 401.00ZM412.96 395.81L410.51 400.71L415.41 400.71ZM413.93 394.35L411.48 399.25L416.38 399.25ZM406.17 403.36L403.72 408.26L408.62 408.26ZM409.57 406.27L407.12 411.17L412.02 411.17ZM412.67 402.10L410.22 407.00L415.12 407.00ZM419.74 404.33L417.29 409.23L422.19 409.23ZM418.09 407.43L415.64 412.33L420.54 412.33ZM425.84 403.36L423.39 408.26L428.29 408.26ZM401.33 408.21L398.88 413.11L403.78 413.11ZM438.15 400.84L435.70 405.74L440.60 405.74ZM443.48 402.78L441.03 407.68L445.93 407.68ZM431.85 408.40L429.40 413.30L434.30 413.30ZM433.79 407.43L431.34 412.33L436.24 412.33ZM435.73 409.86L433.28 414.76L438.18 414.76ZM403.75 415.96L401.30 420.86L406.20 420.86ZM409.08 411.79L406.63 416.69L411.53 416.69ZM408.60 415.19L406.15 420.09L411.05 420.09ZM411.50 415.19L409.05 420.09L413.95 420.09ZM413.93 415.67L411.48 420.57L416.38 420.57ZM416.35 417.12L413.90 422.02L418.80 422.02ZM418.48 414.22L416.03 419.12L420.93 419.12ZM428.46 413.73L426.01 418.63L430.91 418.63ZM428.46 416.15L426.01 421.05L430.91 421.05ZM429.43 419.06L426.98 423.96L431.88 423.96ZM438.64 417.12L436.19 422.02L441.09 422.02ZM365.01 420.98L362.56 425.88L367.46 425.88ZM364.72 428.87L362.27 433.77L367.17 433.77ZM366.44 427.44L363.99 432.34L368.89 432.34ZM384.80 427.87L382.35 432.77L387.25 432.77ZM382.22 430.74L379.77 435.64L384.67 435.64ZM385.95 431.74L383.50 436.64L388.40 436.64ZM394.55 428.87L392.10 433.77L397.00 433.77ZM395.98 428.44L393.53 433.34L398.43 433.34ZM365.01 436.47L362.56 441.37L367.46 441.37ZM372.61 435.76L370.16 440.66L375.06 440.66ZM377.34 434.32L374.89 439.22L379.79 439.22ZM378.78 440.06L376.33 444.96L381.23 444.96ZM384.08 437.91L381.63 442.81L386.53 442.81ZM396.27 434.61L393.82 439.51L398.72 439.51ZM388.38 444.65L385.93 449.55L390.83 449.55ZM390.53 442.50L388.08 447.40L392.98 447.40ZM393.69 440.77L391.24 445.67L396.14 445.67ZM396.99 445.36L394.54 450.26L399.44 450.26ZM367.59 451.82L365.14 456.72L370.04 456.72ZM369.31 449.95L366.86 454.85L371.76 454.85ZM374.76 448.23L372.31 453.13L377.21 453.13ZM377.34 450.38L374.89 455.28L379.79 455.28ZM380.21 453.68L377.76 458.58L382.66 458.58ZM381.21 451.82L378.76 456.72L383.66 456.72ZM394.55 458.56L392.10 463.46L397.00 463.46ZM394.84 461.86L392.39 466.76L397.29 466.76ZM385.09 467.31L382.64 472.21L387.54 472.21ZM369.31 470.46L366.86 475.36L371.76 475.36ZM382.65 473.76L380.20 478.66L385.10 478.66ZM386.52 473.04L384.07 477.94L388.97 477.94ZM442.03 421.70L439.58 426.60L444.48 426.60ZM414.92 424.14L412.47 429.04L417.37 429.04ZM420.23 428.44L417.78 433.34L422.68 433.34ZM446.04 427.44L443.59 432.34L448.49 432.34ZM462.53 427.44L460.08 432.34L464.98 432.34ZM400.15 434.61L397.70 439.51L402.60 439.51ZM403.74 433.17L401.29 438.07L406.19 438.07ZM404.45 436.04L402.00 440.94L406.90 440.94ZM407.32 435.04L404.87 439.94L409.77 439.94ZM402.02 439.34L399.57 444.24L404.47 444.24ZM405.89 437.91L403.44 442.81L408.34 442.81ZM415.21 435.33L412.76 440.23L417.66 440.23ZM417.36 433.89L414.91 438.79L419.81 438.79ZM420.23 434.61L417.78 439.51L422.68 439.51ZM423.10 433.89L420.65 438.79L425.55 438.79ZM425.97 433.17L423.52 438.07L428.42 438.07ZM415.93 438.91L413.48 443.81L418.38 443.81ZM419.51 438.48L417.06 443.38L421.96 443.38ZM426.68 439.91L424.23 444.81L429.13 444.81ZM431.70 437.48L429.25 442.38L434.15 442.38ZM433.57 443.64L431.12 448.54L436.02 448.54ZM440.31 442.21L437.86 447.11L442.76 447.11ZM447.48 435.04L445.03 439.94L449.93 439.94ZM409.47 447.08L407.02 451.98L411.92 451.98ZM400.87 451.39L398.42 456.29L403.32 456.29ZM416.36 449.95L413.91 454.85L418.81 454.85ZM416.93 453.25L414.48 458.15L419.38 458.15ZM460.38 442.93L457.93 447.83L462.83 447.83ZM463.68 447.80L461.23 452.70L466.13 452.70ZM458.23 454.40L455.78 459.30L460.68 459.30ZM450.06 455.69L447.61 460.59L452.51 460.59ZM425.97 469.46L423.52 474.36L428.42 474.36ZM437.87 466.88L435.42 471.78L440.32 471.78ZM444.18 474.76L441.73 479.66L446.63 479.66Z"/><path fill="#ff0000" d="M428.80 327.20L430.15 331.35L434.51 331.35L430.98 333.91L432.33 338.05L428.80 335.49L425.27 338.05L426.62 333.91L423.09 331.35L427.45 331.35ZM405.60 419.50L406.95 423.65L411.31 423.65L407.78 426.21L409.13 430.35L405.60 427.79L402.07 430.35L403.42 426.21L399.89 423.65L404.25 423.65ZM528.40 416.30L529.75 420.45L534.11 420.45L530.58 423.01L531.93 427.15L528.40 424.59L524.87 427.15L526.22 423.01L522.69 420.45L527.05 420.45Z"/></g><rect x="326.5" y="279" width="217" height="217" fill="none" stroke="#7c7c7c" stroke-width="1.3"/><path d="M326.50 496.00v2.6M326.50 496.00h-2.6M353.62 496.00v2.6M326.50 468.88h-2.6M380.75 496.00v2.6M326.50 441.75h-2.6M407.88 496.00v2.6M326.50 414.62h-2.6M435.00 496.00v2.6M326.50 387.50h-2.6M462.12 496.00v2.6M326.50 360.38h-2.6M489.25 496.00v2.6M326.50 333.25h-2.6M516.38 496.00v2.6M326.50 306.12h-2.6M543.50 496.00v2.6M326.50 279.00h-2.6" stroke="#7c7c7c" stroke-width="1"/><g font-family="Liberation Sans" font-size="7.2" fill="#4a4a4a" stroke="#4a4a4a" stroke-width="0.3"><text x="326.50" y="505.80" text-anchor="middle">−2.0</text><text x="322.20" y="498.40" text-anchor="end">−2.0</text><text x="353.62" y="505.80" text-anchor="middle">−1.5</text><text x="322.20" y="471.27" text-anchor="end">−1.5</text><text x="380.75" y="505.80" text-anchor="middle">−1.0</text><text x="322.20" y="444.15" text-anchor="end">−1.0</text><text x="407.88" y="505.80" text-anchor="middle">−0.5</text><text x="322.20" y="417.02" text-anchor="end">−0.5</text><text x="435.00" y="505.80" text-anchor="middle">0.0</text><text x="322.20" y="389.90" text-anchor="end">0.0</text><text x="462.12" y="505.80" text-anchor="middle">0.5</text><text x="322.20" y="362.77" text-anchor="end">0.5</text><text x="489.25" y="505.80" text-anchor="middle">1.0</text><text x="322.20" y="335.65" text-anchor="end">1.0</text><text x="516.38" y="505.80" text-anchor="middle">1.5</text><text x="322.20" y="308.52" text-anchor="end">1.5</text><text x="543.50" y="505.80" text-anchor="middle">2.0</text><text x="322.20" y="281.40" text-anchor="end">2.0</text></g><text x="435.00" y="276.20" text-anchor="middle" font-family="Liberation Serif" font-weight="bold" font-size="7.8" fill="#111" stroke="#111" stroke-width="0.28">Anchor_box K-means Clustering (centroid=3)</text><text x="435.00" y="514.20" text-anchor="middle" font-family="Liberation Serif" font-weight="bold" font-size="6.46" fill="#111" stroke="#111" stroke-width="0.18">Anchor box:X coordinates</text><text transform="translate(301.90 387.50) rotate(-90)" text-anchor="middle" font-family="Liberation Serif" font-weight="bold" font-size="6.46" fill="#111" stroke="#111" stroke-width="0.18">Anchor box:X coordinates</text><rect x="341.2" y="288.6" width="43.80" height="16.00" fill="#d9d9d9"/><text x="363.10" y="300.70" text-anchor="middle" font-family="Liberation Serif" font-size="11.65" fill="#000" stroke="#000" stroke-width="0.25">(d)Ymax</text><rect x="488.3" y="282.2" width="52.30" height="30.90" rx="1.5" fill="#fff" fill-opacity="0.8" stroke="#d6d6d6" stroke-width="0.8"/><circle cx="497.50" cy="288.20" r="2.45" fill="#ffa500"/><path d="M497.50 295.55L495.05 300.45L499.95 300.45Z" fill="#0000ff"/><path d="M497.50 301.50L498.85 305.65L503.21 305.65L499.68 308.21L501.03 312.35L497.50 309.79L493.97 312.35L495.32 308.21L491.79 305.65L496.15 305.65Z" fill="#ff0000"/><g font-family="Liberation Sans" font-size="7.3" fill="#4a4a4a" stroke="#4a4a4a" stroke-width="0.15"><text x="509.60" y="290.80">cluster 1</text><text x="509.60" y="300.60">cluster 2</text><text x="509.60" y="310.10">centroid</text></g>
</g>
</svg>
</body></html>
